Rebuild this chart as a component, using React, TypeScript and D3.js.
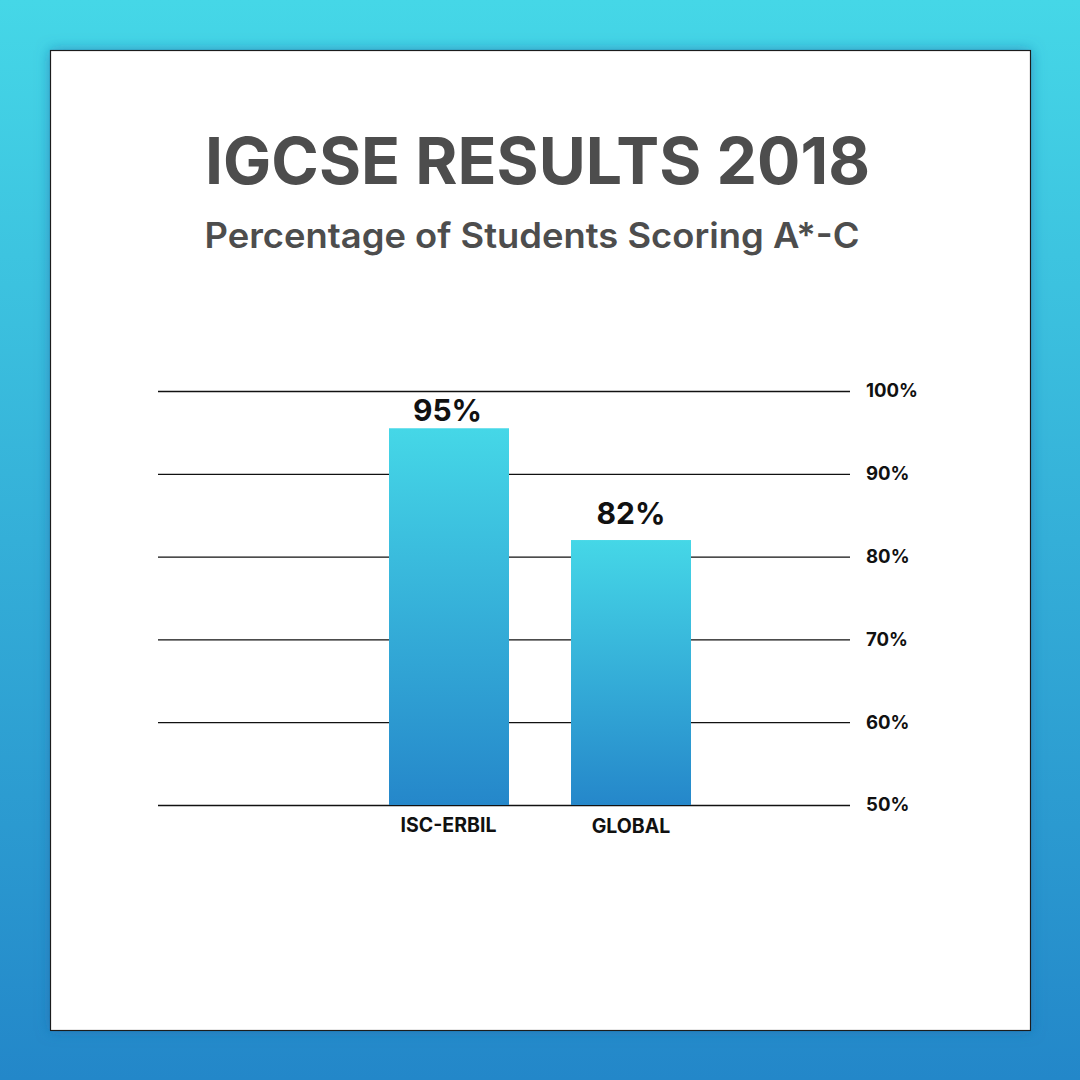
import { useRef, useEffect } from "react";
import * as d3 from "d3";

const categories: string[] = ["ISC-ERBIL", "GLOBAL"];
const barValues: number[] = [95.5, 82];
const barLabels: string[] = ["95%", "82%"];
const yTicks: number[] = [50, 60, 70, 80, 90, 100];

const FONT = "Inter, Lato, sans-serif";

// hand nudges, the labels in the original aren't placed consistently
const labelGap: number[] = [7, 16];
const catBaseline: number[] = [832, 833];

const App = () => {
  const axisRef = useRef<SVGGElement>(null);

  const y = d3.scaleLinear().domain([50, 100]).range([805, 391]);
  const x = d3.scaleBand().domain(categories).range([389, 691]).paddingInner(62 / 182);

  useEffect(() => {
    const axis: any = d3.select(axisRef.current);
    axis.call(
      d3.axisRight(y)
        .tickValues(yTicks)
        .tickSize(692)
        .tickPadding(16)
        .tickFormat((d: any) => `${d}%`)
    );
    axis.select(".domain").remove();
    axis.selectAll("line").attr("stroke", "#111").attr("stroke-width", 1.3);
    axis.selectAll("text")
      .attr("fill", "#111")
      .style("font-family", FONT)
      .style("font-size", "18.6px")
      .style("font-weight", 700);
  }, []);

  return (
    <svg
      width={1080}
      height={1080}
      viewBox="0 0 1080 1080"
      style={{ position: "absolute", left: 0, top: 0 }}
    >
      <defs>
        <linearGradient id="bg" x1="0" y1="0" x2="0" y2="1">
          <stop offset="0" stopColor="#45d7e7" />
          <stop offset="1" stopColor="#2387c9" />
        </linearGradient>
        <linearGradient id="bar" x1="0" y1="0" x2="0" y2="1">
          <stop offset="0" stopColor="#45d7e7" />
          <stop offset="1" stopColor="#2587ca" />
        </linearGradient>
        <filter id="shadow" x="-5%" y="-5%" width="110%" height="110%">
          <feDropShadow dx="0" dy="0" stdDeviation="7" floodColor="#1c6aa8" floodOpacity="0.6" />
        </filter>
      </defs>

      <rect x={0} y={0} width={1080} height={1080} fill="url(#bg)" />
      <rect
        x={50.5}
        y={50.5}
        width={980}
        height={980}
        fill="#fff"
        stroke="#1a1a1a"
        strokeWidth={1.2}
        filter="url(#shadow)"
      />

      <text
        x={537.5}
        y={184}
        textAnchor="middle"
        fill="#4d4d4d"
        fontFamily={FONT}
        fontSize={65}
        fontWeight={700}
        textLength={665}
        lengthAdjust="spacingAndGlyphs"
      >
        IGCSE RESULTS 2018
      </text>
      <text
        x={532}
        y={248}
        textAnchor="middle"
        fill="#4d4d4d"
        fontFamily={FONT}
        fontSize={35}
        fontWeight={600}
        textLength={655}
        lengthAdjust="spacingAndGlyphs"
      >
        Percentage of Students Scoring A*-C
      </text>

      <g ref={axisRef} transform="translate(158,0)" />

      {categories.map((c, i) => (
        <g key={c}>
          <rect
            x={x(c)}
            y={y(barValues[i])}
            width={x.bandwidth()}
            height={y(50) - y(barValues[i])}
            fill="url(#bar)"
          />
          <text
            x={(x(c) as number) + x.bandwidth() / 2 + (i === 0 ? -1.5 : 0)}
            y={y(barValues[i]) - labelGap[i]}
            textAnchor="middle"
            fill="#111"
            fontFamily={FONT}
            fontSize={30}
            fontWeight={700}
          >
            {barLabels[i]}
          </text>
          <text
            x={(x(c) as number) + x.bandwidth() / 2 + (i === 0 ? -0.5 : 0)}
            y={catBaseline[i]}
            textAnchor="middle"
            fill="#111"
            fontFamily={FONT}
            fontSize={19.5}
            fontWeight={700}
          >
            {c}
          </text>
        </g>
      ))}
    </svg>
  );
};

export default App;
